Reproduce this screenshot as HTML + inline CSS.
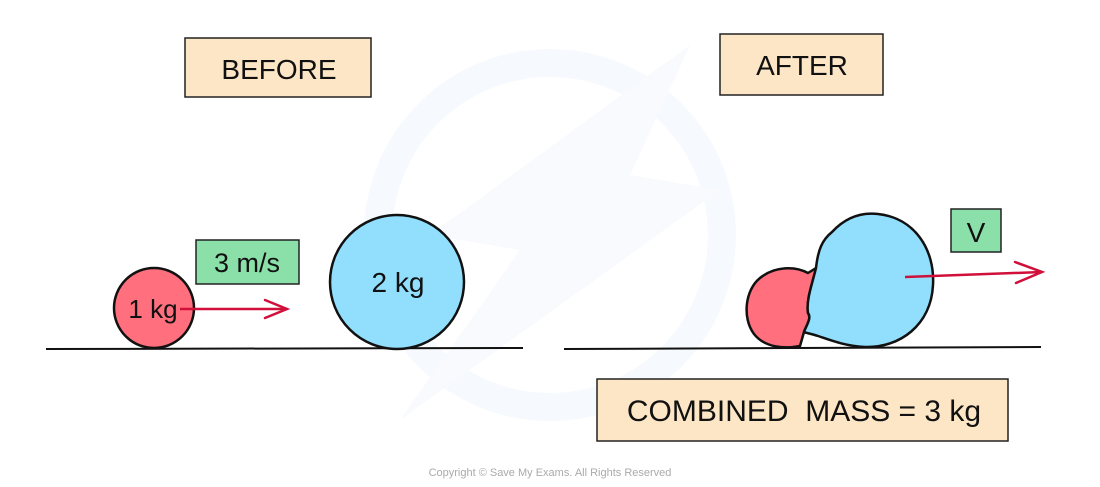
<!DOCTYPE html>
<html><head><meta charset="utf-8"><style>
html,body{margin:0;padding:0;background:#fff;}
svg{display:block;}
text{font-family:"Liberation Sans",sans-serif;fill:#111;}
</style></head><body>
<svg width="1100" height="487" viewBox="0 0 1100 487" xmlns="http://www.w3.org/2000/svg">
<!-- faint watermark -->
<circle cx="550" cy="235" r="172" fill="none" stroke="#f6f9fd" stroke-width="28"/>
<polygon points="690,45 430,235 520,250 400,420 720,190 630,175" fill="#f8fafd"/>
<!-- BEFORE -->
<rect x="185" y="38" width="186" height="59" fill="#fde6c6" stroke="#222" stroke-width="1.5"/>
<text x="279" y="79" font-size="28" text-anchor="middle">BEFORE</text>
<rect x="720" y="34" width="163" height="61" fill="#fde6c6" stroke="#222" stroke-width="1.5"/>
<text x="802" y="75" font-size="28" text-anchor="middle">AFTER</text>
<!-- ground lines -->
<line x1="46" y1="349" x2="523" y2="348" stroke="#111" stroke-width="2"/>
<line x1="564" y1="349" x2="1041" y2="347" stroke="#111" stroke-width="2"/>
<!-- before balls -->
<circle cx="154" cy="308" r="40" fill="#ff6f7d" stroke="#111" stroke-width="2.5"/>
<text x="153" y="318" font-size="26" text-anchor="middle">1 kg</text>
<line x1="180" y1="309" x2="287" y2="309" stroke="#d0103a" stroke-width="2.5"/>
<polyline points="265,300 287,309 265,318" fill="none" stroke="#d0103a" stroke-width="2.5" stroke-linecap="round"/>
<rect x="196" y="240" width="103" height="44" fill="#8ae0a8" stroke="#222" stroke-width="1.5"/>
<text x="247" y="272" font-size="27" text-anchor="middle">3 m/s</text>
<circle cx="397" cy="282" r="67" fill="#92dffd" stroke="#111" stroke-width="2.5"/>
<text x="398" y="292" font-size="28" text-anchor="middle">2 kg</text>
<!-- after blob -->
<path d="M800,346 C785,349 765,348 754,334 C742,318 745,290 760,278 C775,266 795,266 808,273 L816,268 C812,285 806,300 808,313 C812,318 806,326 804,332 Z" fill="#ff6f7d" stroke="#111" stroke-width="2.5" stroke-linejoin="round"/>
<path d="M816,268 C818,250 822,240 832,232 C845,218 860,212 878,214 C915,218 935,250 933,285 C931,325 900,348 865,347 C845,346 830,340 818,336 C812,334 806,333 804,332 C806,326 812,318 808,313 C806,300 812,285 816,268 Z" fill="#92dffd" stroke="#111" stroke-width="2.5" stroke-linejoin="round"/>
<line x1="905" y1="277" x2="1042" y2="272" stroke="#d0103a" stroke-width="2.5"/>
<polyline points="1015,262 1042,272 1016,283" fill="none" stroke="#d0103a" stroke-width="2.5" stroke-linecap="round"/>
<rect x="951" y="209" width="50" height="43" fill="#8ae0a8" stroke="#222" stroke-width="1.5"/>
<text x="976" y="242" font-size="28" text-anchor="middle">V</text>
<!-- combined -->
<rect x="597" y="379" width="411" height="62" fill="#fde6c6" stroke="#222" stroke-width="1.5"/>
<text x="804" y="421" font-size="30" text-anchor="middle" xml:space="preserve">COMBINED  MASS = 3 kg</text>
<text x="550" y="476" font-size="11" text-anchor="middle" style="fill:#aaa">Copyright © Save My Exams. All Rights Reserved</text>
</svg>
</body></html>
